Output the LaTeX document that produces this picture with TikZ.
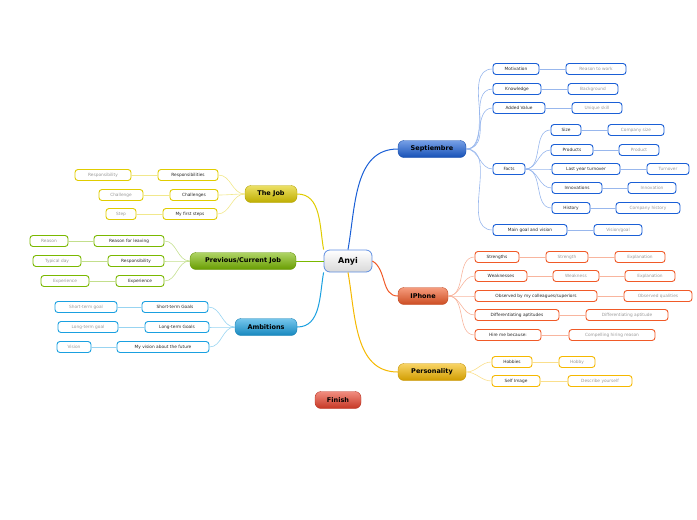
\documentclass[tikz,border=0pt]{standalone}
\usepackage{fontspec}
\setmainfont{DejaVu Sans}
\begin{document}
\begin{tikzpicture}[x=1pt,y=-1pt,
 sub/.style={draw=#1,line width=0.9pt,rounded corners=3pt,minimum height=11pt,inner sep=1pt,font=\fontsize{4.3}{5}\selectfont,text=black!85,fill=white},
 leaf/.style={sub=#1,text=black!40},
 main/.style={rounded corners=6pt,minimum height=17pt,inner sep=2pt,font=\fontsize{6.5}{8}\selectfont\bfseries,text=black,draw=#1!80!black,top color=#1!60,bottom color=#1!85!black},
 ln/.style={draw=#1,line width=0.6pt},
 mln/.style={draw=#1,line width=1pt}]
\useasboundingbox (0,0) rectangle (697,520);
\colorlet{cb}{blue!70!cyan!90!black}
\definecolor{sb}{HTML}{1A5FD6}
\definecolor{or}{HTML}{F05A28}
\definecolor{py}{HTML}{F5B800}
\definecolor{jy}{HTML}{E0CC00}
\definecolor{gr}{HTML}{7AB800}
\definecolor{cy}{HTML}{1AA0E0}
\definecolor{fr}{HTML}{E8402A}
% center and mains
\node[draw=sb!70,line width=0.8pt,rounded corners=6pt,minimum width=48pt,minimum height=22pt,top color=white,bottom color=black!15,font=\fontsize{8}{9}\selectfont\bfseries] (c) at (348,261) {Anyi};
\node[main=sb,minimum width=68pt] (s) at (432,149) {Septiembre};
\node[main=or,minimum width=50pt] (i) at (423,296) {IPhone};
\node[main=py,minimum width=68pt] (p) at (432,372) {Personality};
\node[main=fr,minimum width=46pt] (f) at (338,400) {Finish};
\node[main=jy,minimum width=52pt] (j) at (271,194) {The Job};
\node[main=gr,minimum width=106pt] (g) at (243,261) {Previous/Current Job};
\node[main=cy,minimum width=62pt] (a) at (266,327) {Ambitions};
\draw[mln=sb] (c.north) to[out=80,in=180] (s.west);
\draw[mln=or] (c.east) to[out=-30,in=180] (i.west);
\draw[mln=py] (c.south) to[out=-80,in=180] (p.west);
\draw[mln=jy] (c.north west) to[out=100,in=0] (j.east);
\draw[mln=gr] (c.west) -- (g.east);
\draw[mln=cy] (c.south west) to[out=-100,in=0] (a.east);
% Septiembre
\node[sub=sb,minimum width=46pt] (s1) at (516,69) {Motivation};
\node[leaf=sb,minimum width=60pt] (s1a) at (596,69) {Reason to work};
\node[sub=sb,minimum width=48pt] (s2) at (517,89) {Knowledge};
\node[leaf=sb,minimum width=50pt] (s2a) at (593,89) {Background};
\node[sub=sb,minimum width=52pt] (s3) at (519,108) {Added Value};
\node[leaf=sb,minimum width=50pt] (s3a) at (597,108) {Unique skill};
\node[sub=sb,minimum width=32pt] (s4) at (509,169) {Facts};
\node[sub=sb,minimum width=74pt] (s5) at (530,230) {Main goal and vision};
\node[leaf=sb,minimum width=48pt] (s5a) at (618,230) {Vision/goal};
\node[sub=sb,minimum width=30pt] (f1) at (566,130) {Size};
\node[leaf=sb,minimum width=56pt] (f1a) at (636,130) {Company size};
\node[sub=sb,minimum width=42pt] (f2) at (572,150) {Products};
\node[leaf=sb,minimum width=40pt] (f2a) at (639,150) {Product};
\node[sub=sb,minimum width=68pt] (f3) at (586,169) {Last year turnover};
\node[leaf=sb,minimum width=42pt] (f3a) at (668,169) {Turnover};
\node[sub=sb,minimum width=50pt] (f4) at (577,188) {Innovations};
\node[leaf=sb,minimum width=48pt] (f4a) at (652,188) {Innovation};
\node[sub=sb,minimum width=38pt] (f5) at (571,208) {History};
\node[leaf=sb,minimum width=64pt] (f5a) at (648,208) {Company history};
\foreach \n in {s1,s2,s3,s4,s5} \draw[ln=sb!45] (s.east) to[out=0,in=180] (\n.west);
\foreach \n in {f1,f2,f3,f4,f5} \draw[ln=sb!45] (s4.east) to[out=0,in=180] (\n.west);
\foreach \n in {s1,s2,s3,s5,f1,f2,f3,f4,f5} \draw[ln=sb!45] (\n.east) -- (\n a.west);
% IPhone
\node[sub=or,minimum width=44pt] (i1) at (497,257) {Strengths};
\node[leaf=or,minimum width=42pt] (i1a) at (567,257) {Strength};
\node[leaf=or,minimum width=50pt] (i1b) at (640,257) {Explanation};
\node[sub=or,minimum width=52pt] (i2) at (501,276) {Weaknesses};
\node[leaf=or,minimum width=46pt] (i2a) at (576,276) {Weakness};
\node[leaf=or,minimum width=50pt] (i2b) at (650,276) {Explanation};
\node[sub=or,minimum width=122pt] (i3) at (536,296) {Observed by my colleagues/superiors};
\node[leaf=or,minimum width=68pt] (i3a) at (658,296) {Observed qualities};
\node[sub=or,minimum width=84pt] (i4) at (517,315) {Differentiating aptitudes};
\node[leaf=or,minimum width=82pt] (i4a) at (627,315) {Differentiating aptitude};
\node[sub=or,minimum width=66pt] (i5) at (508,335) {Hire me because:};
\node[leaf=or,minimum width=86pt] (i5a) at (612,335) {Compelling hiring reason};
\foreach \n in {i1,i2,i3,i4,i5} {\draw[ln=or!45] (i.east) to[out=0,in=180] (\n.west); \draw[ln=or!45] (\n.east) -- (\n a.west);}
\draw[ln=or!45] (i1a.east) -- (i1b.west);
\draw[ln=or!45] (i2a.east) -- (i2b.west);
% Personality
\node[sub=py,minimum width=40pt] (p1) at (512,362) {Hobbies};
\node[leaf=py,minimum width=36pt] (p1a) at (577,362) {Hobby};
\node[sub=py,minimum width=48pt] (p2) at (516,381) {Self Image};
\node[leaf=py,minimum width=64pt] (p2a) at (600,381) {Describe yourself};
\foreach \n in {p1,p2} {\draw[ln=py!45] (p.east) to[out=0,in=180] (\n.west); \draw[ln=py!45] (\n.east) -- (\n a.west);}
% The Job
\node[sub=jy,minimum width=60pt] (j1) at (188,175) {Responsibilities};
\node[leaf=jy,minimum width=56pt] (j1a) at (103,175) {Responsibility};
\node[sub=jy,minimum width=48pt] (j2) at (194,195) {Challenges};
\node[leaf=jy,minimum width=44pt] (j2a) at (121,195) {Challenge};
\node[sub=jy,minimum width=54pt] (j3) at (190,214) {My first steps};
\node[leaf=jy,minimum width=30pt] (j3a) at (121,214) {Step};
\foreach \n in {j1,j2,j3} {\draw[ln=jy!45] (j.west) to[out=180,in=0] (\n.east); \draw[ln=jy!45] (\n.west) -- (\n a.east);}
% Previous
\node[sub=gr,minimum width=70pt] (g1) at (129,241) {Reason for leaving};
\node[leaf=gr,minimum width=38pt] (g1a) at (49,241) {Reason};
\node[sub=gr,minimum width=56pt] (g2) at (136,261) {Responsibility};
\node[leaf=gr,minimum width=48pt] (g2a) at (57,261) {Typical day};
\node[sub=gr,minimum width=48pt] (g3) at (140,281) {Experience};
\node[leaf=gr,minimum width=48pt] (g3a) at (65,281) {Experience};
\foreach \n in {g1,g2,g3} {\draw[ln=gr!45] (g.west) to[out=180,in=0] (\n.east); \draw[ln=gr!45] (\n.west) -- (\n a.east);}
% Ambitions
\node[sub=cy,minimum width=66pt] (a1) at (175,307) {Short-term Goals};
\node[leaf=cy,minimum width=62pt] (a1a) at (86,307) {Short-term goal};
\node[sub=cy,minimum width=64pt] (a2) at (177,327) {Long-term Goals};
\node[leaf=cy,minimum width=60pt] (a2a) at (88,327) {Long-term goal};
\node[sub=cy,minimum width=92pt] (a3) at (163,347) {My vision about the future};
\node[leaf=cy,minimum width=34pt] (a3a) at (74,347) {Vision};
\foreach \n in {a1,a2,a3} {\draw[ln=cy!45] (a.west) to[out=180,in=0] (\n.east); \draw[ln=cy!45] (\n.west) -- (\n a.east);}
\end{tikzpicture}
\end{document}
